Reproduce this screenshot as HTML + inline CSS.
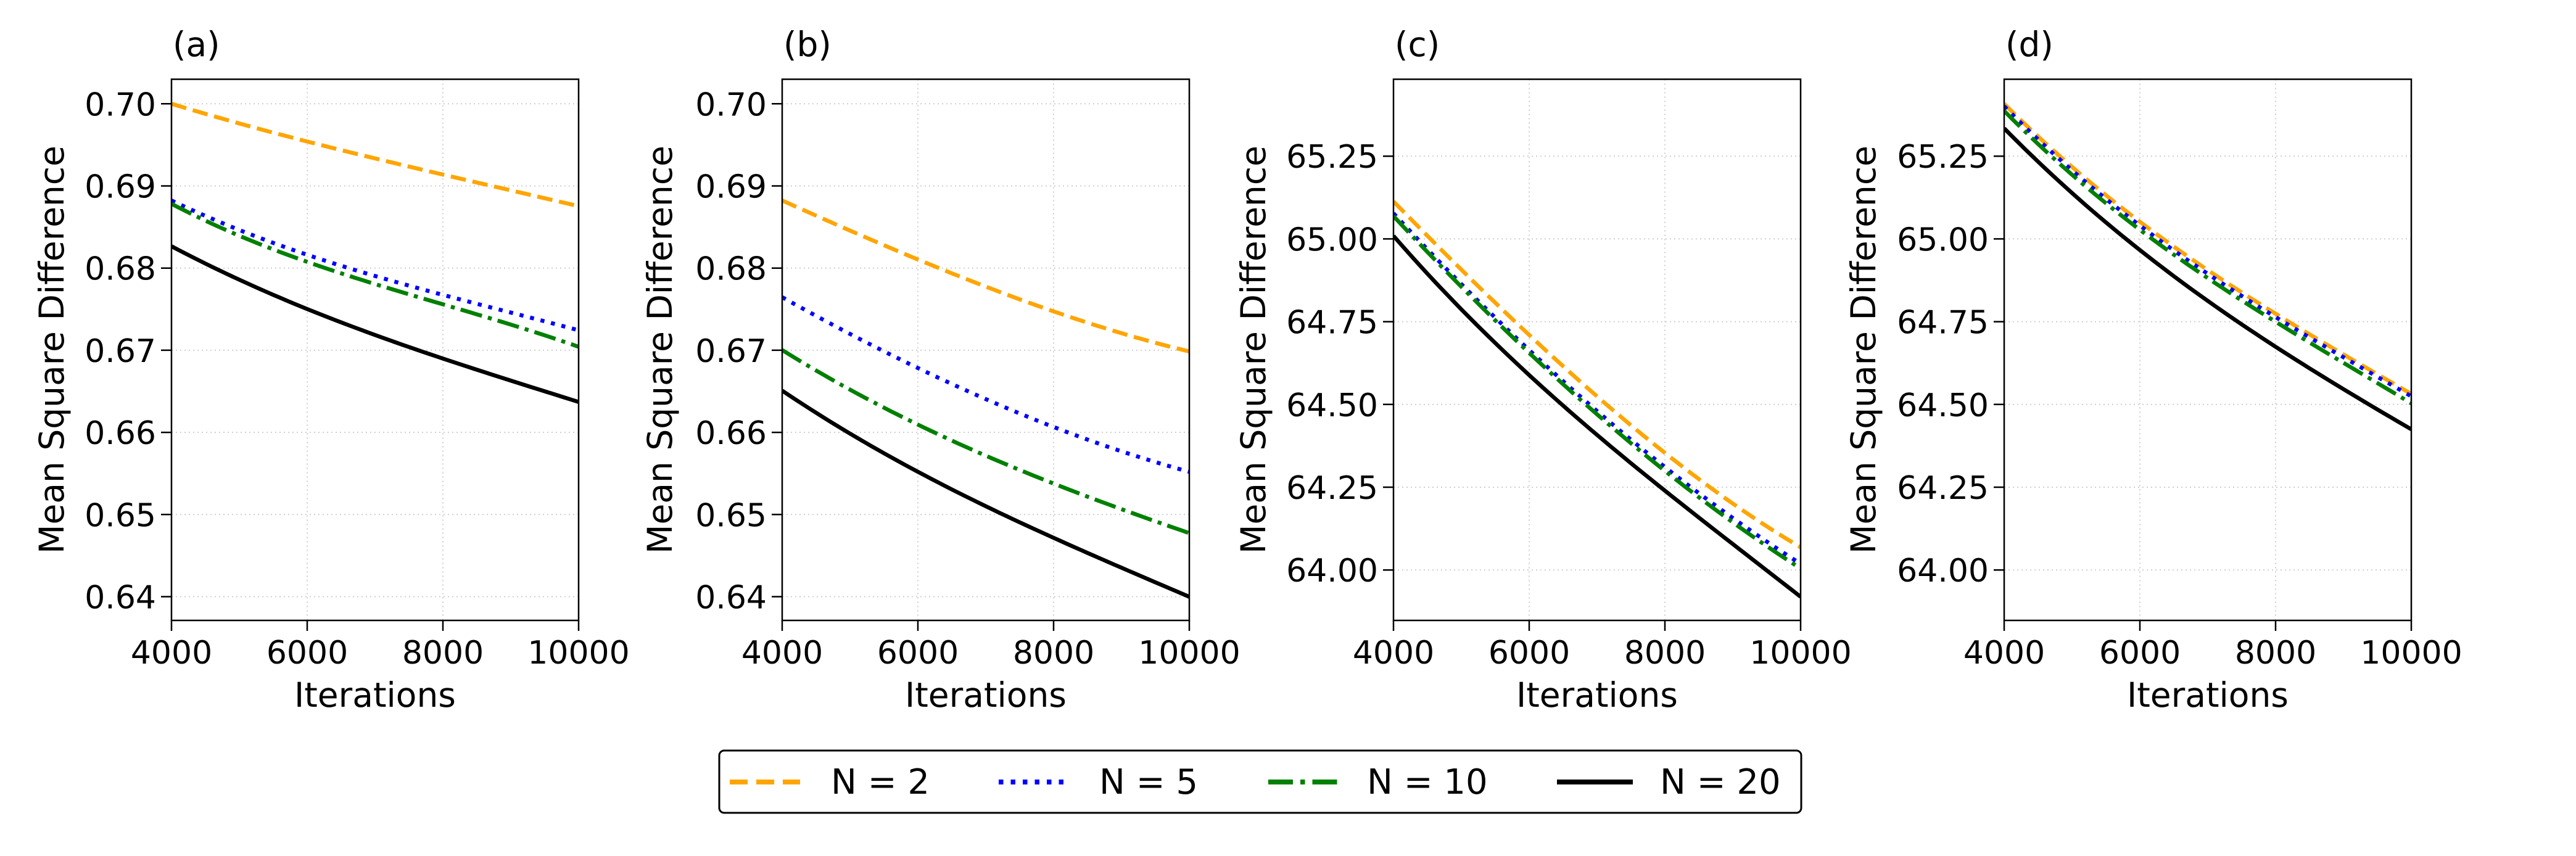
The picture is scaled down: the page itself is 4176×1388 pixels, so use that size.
<!DOCTYPE html>
<html><head><meta charset="utf-8"><style>
html,body{margin:0;padding:0;background:#fff;}
svg{display:block;}
text{font-family:"DejaVu Sans","Liberation Sans",sans-serif;fill:#000;}
</style></head><body>
<svg id="s" width="4176" height="1388" viewBox="0 0 4176 1388" xmlns="http://www.w3.org/2000/svg"></svg>
<script>
(function(){
var s=document.getElementById('s');
var NS='http://www.w3.org/2000/svg';
function el(t,a,txt){var e=document.createElementNS(NS,t);for(var k in a)e.setAttribute(k,a[k]);if(txt!==undefined)e.textContent=txt;s.appendChild(e);return e;}
var fy=0.765;
var topY=128.5,botY=1006,W=660;
var lefts=[278,1268,2259,3249];
var labels=['(a)','(b)','(c)','(d)'];
var ylabX=[84,1070,2032,3021];
var styles=[
 {c:'#ffa500',d:'25 11'},
 {c:'#0000ff',d:'6.5 11'},
 {c:'#008000',d:'36 10 6.5 10'},
 {c:'#000000',d:''}
];
var data=[
 [[220,300,370,437],[425,540,625,700],[432,555,645,735],[522,655,760,852]],
 [[425,550,660,745],[630,780,905,1000],[742,900,1025,1130],[828,1000,1140,1265]],
 [[427,710,960,1160],[452,742,990,1195],[458,748,998,1205],[500,795,1040,1265]],
 [[220,470,665,835],[225,478,672,840],[235,487,682,855],[272,530,735,910]]
];
var ticksAB=[],ticksCD=[];
var labAB=['0.70','0.69','0.68','0.67','0.66','0.65','0.64'];
for(var i0=0;i0<7;i0++)ticksAB.push([labAB[i0],168.3+i0*133.2]);
var labCD=['65.25','65.00','64.75','64.50','64.25','64.00'];
for(var i1=0;i1<6;i1++)ticksCD.push([labCD[i1],253.2+i1*134.2]);
for(var p=0;p<4;p++){
 var L=lefts[p],R=L+W;
 var ticks=p<2?ticksAB:ticksCD;
 for(var q=0;q<ticks.length;q++){
  var lab=ticks[q][0],y=ticks[q][1];
  el('line',{x1:L,x2:R,y1:y,y2:y,stroke:'#b0b0b0','stroke-width':2,'stroke-dasharray':'2 5',opacity:0.6});
  el('line',{x1:L-17,x2:L,y1:y,y2:y,stroke:'#000','stroke-width':2.5});
  el('text',{x:L-25,y:y+19,'font-size':52,'text-anchor':'end'},lab);
 }
 var xt=['4000','6000','8000','10000'];
 for(var i=0;i<4;i++){
  var x=L+i*220;
  if(i>0&&i<3)el('line',{x1:x,x2:x,y1:topY,y2:botY,stroke:'#b0b0b0','stroke-width':2,'stroke-dasharray':'2 5',opacity:0.6});
  el('line',{x1:x,x2:x,y1:botY,y2:botY+17,stroke:'#000','stroke-width':2.5});
  el('text',{x:x,y:1076,'font-size':52,'text-anchor':'middle'},xt[i]);
 }
 var cp=el('clipPath',{id:'c'+p});
 var r=document.createElementNS(NS,'rect');r.setAttribute('x',L);r.setAttribute('y',topY);r.setAttribute('width',W);r.setAttribute('height',botY-topY);cp.appendChild(r);
 for(var k=0;k<4;k++){
  var ys=data[p][k].map(function(v){return v*fy;});
  var d='';
  for(var ii=0;ii<=60;ii++){
   var t=ii/60*3;
   var yy=0;
   for(var j=0;j<4;j++){var b=1;for(var m=0;m<4;m++)if(m!==j)b*=(t-m)/(j-m);yy+=b*ys[j];}
   d+=(ii?'L':'M')+(L+t*220).toFixed(1)+' '+yy.toFixed(1);
  }
  var a={d:d,fill:'none',stroke:styles[k].c,'stroke-width':6.5,'clip-path':'url(#c'+p+')'};
  if(styles[k].d)a['stroke-dasharray']=styles[k].d;
  el('path',a);
 }
 el('rect',{x:L,y:topY,width:W,height:botY-topY,fill:'none',stroke:'#000','stroke-width':2.5});
 el('text',{x:L+2,y:91,'font-size':55},labels[p]);
 el('text',{x:L+W/2,y:1146,'font-size':55,'text-anchor':'middle'},'Iterations');
 el('text',{x:0,y:0,'font-size':55,'text-anchor':'middle',transform:'translate('+(ylabX[p]+19)+',567) rotate(-90)'},'Mean Square Difference');
}
el('rect',{x:1166,y:1217,width:1754,height:101,rx:8,fill:'#fff',stroke:'#000','stroke-width':3});
var lx=[[1183,1297,1347,'N = 2'],[1619,1733,1782,'N = 5'],[2056,2170,2216,'N = 10'],[2524,2647,2691,'N = 20']];
var ld=['29 14','7.5 12','40 12 7.5 12',''];
for(var k2=0;k2<4;k2++){
 var a2={x1:lx[k2][0],x2:lx[k2][1],y1:1268,y2:1268,stroke:styles[k2].c,'stroke-width':8};
 if(ld[k2])a2['stroke-dasharray']=ld[k2];
 el('line',a2);
 el('text',{x:lx[k2][2],y:1287,'font-size':56},lx[k2][3]);
}
})();
</script>
</body></html>
